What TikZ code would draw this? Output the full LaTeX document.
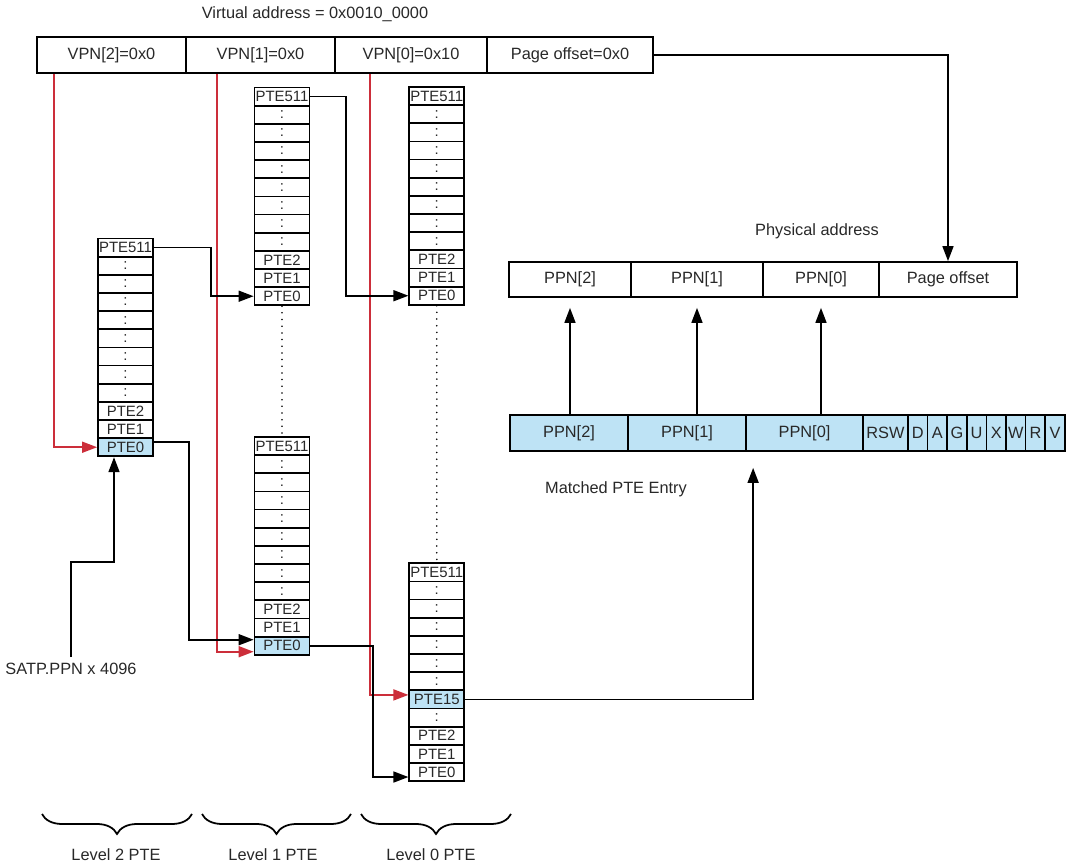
\documentclass[tikz,border=0pt]{standalone}
\usepackage{fontspec}
\setmainfont{Liberation Sans}
\usetikzlibrary{arrows.meta,decorations.pathreplacing}

\definecolor{ptefill}{RGB}{190,227,245}
\definecolor{walkred}{RGB}{204,46,58}
\definecolor{inkgrey}{RGB}{40,40,40}

\begin{document}
\begin{tikzpicture}[
  x=0.02cm, y=-0.02cm,
  every node/.style={text=inkgrey, font=\fontsize{9.3}{11}\selectfont},
  field/.style={draw, line width=1pt, minimum height=0.72cm, inner sep=0pt},
  hitfield/.style={field, fill=ptefill},
  pterow/.style={draw, line width=1pt, minimum width=1.1cm, minimum height=0.363cm,
                 inner sep=0pt, font=\fontsize{8.5}{9}\selectfont},
  gapline/.style={line width=1pt, line cap=round, dash pattern=on 0pt off 3.8pt},
  arr/.style={-{Triangle[length=8.5pt,width=6.2pt]}, line width=1pt},
  redarr/.style={arr, draw=walkred},
  levelbrace/.style={decorate, decoration={brace, amplitude=0.4cm, mirror}, line width=1pt}
]
\useasboundingbox (0,0) rectangle (1080,868);

% virtual address
\node (vatitle) at (315,14) {Virtual address = 0x0010\_0000};
\node[field, minimum width=2.98cm] (va2)   at (111.5,55) {VPN[2]=0x0};
\node[field, minimum width=2.98cm] (va1)   at (260.5,55) {VPN[1]=0x0};
\node[field, minimum width=3.04cm] (va0)   at (411,55)   {VPN[0]=0x10};
\node[field, minimum width=3.32cm] (vaoff) at (570,55)   {Page offset=0x0};

% page tables: a = level 2, b/d = level 1, c/e = level 0
\foreach \t/\cx/\ty/\hitrow in {a/125.5/238.5/12, b/282/87.5/0, c/436.8/87/0, d/282/437/12}
  \foreach \lab [count=\k] in {PTE511,:,:,:,:,:,:,:,:,PTE2,PTE1,PTE0} {
    \ifnum\k=\hitrow \def\fc{ptefill}\else\def\fc{white}\fi
    \node[pterow, fill=\fc] (\t\k) at (\cx,{\ty+18.15*\k-9.075}) {\lab};
  }
\foreach \lab [count=\k] in {PTE511,:,:,:,:,:,:,PTE15,:,PTE2,PTE1,PTE0} {
  \ifnum\k=8 \def\fc{ptefill}\else\def\fc{white}\fi
  \node[pterow, fill=\fc] (e\k) at (436.8,{563.3+18.15*\k-9.075}) {\lab};
}
\draw[gapline] (b12.south) -- (d1.north);
\draw[gapline] (c12.south) -- (e1.north);

% physical address
\node (patitle) at (817,231) {Physical address};
\node[field, minimum width=2.44cm, minimum height=0.7cm] (pa2)   at (570,279.5) {PPN[2]};
\node[field, minimum width=2.64cm, minimum height=0.7cm] (pa1)   at (697,279.5) {PPN[1]};
\node[field, minimum width=2.32cm, minimum height=0.7cm] (pa0)   at (821,279.5) {PPN[0]};
\node[field, minimum width=2.76cm, minimum height=0.7cm] (paoff) at (948,279.5) {Page offset};

% matched PTE entry
\node[hitfield, minimum width=2.36cm] (pe2) at (569,433)   {PPN[2]};
\node[hitfield, minimum width=2.36cm] (pe1) at (687,433)   {PPN[1]};
\node[hitfield, minimum width=2.34cm] (pe0) at (804.5,433) {PPN[0]};
\node[hitfield, minimum width=0.9cm]  (rsw) at (885.5,433) {RSW};
\foreach \f [count=\i] in {D,A,G,U,X,W,R,V}
  \node[hitfield, minimum width=0.392cm] (flag\f) at ({908+19.6*\i-9.8},433) {\f};
\node (mlabel) at (616,489) {Matched PTE Entry};

\node (satp) at (71,669) {SATP.PPN x 4096};

% table walk
\coordinate (r2) at ([xshift=0.36cm]va2.south west);
\coordinate (r1) at ([xshift=0.64cm]va1.south west);
\coordinate (r0) at ([xshift=0.72cm]va0.south west);
\draw[redarr] (r2) |- (a12.west);
\draw[redarr] (r1) |- ([yshift=-0.12cm]d12.west);
\draw[redarr] (r0) |- ([yshift=0.09cm]e8.west);

\draw[arr] (satp.north) -- ++(0,-95) -| ([xshift=-0.23cm]a12.south);
\draw[arr] (a1.east) -- ++(57,0) |- (b12.west);
\draw[arr] (b1.east) -- ++(36,0) |- (c12.west);
\draw[arr] ([yshift=0.1cm]a12.east) -- ++(35,0) |- ([yshift=0.12cm]d12.west);
\draw[arr] (d12.east) -- ++(63,0) |- ([yshift=-0.1cm]e12.west);
\draw[arr, shorten >=0.32cm] (e8.east) -| ([xshift=0.16cm]pe0.south west);

\draw[arr] (vaoff.east) -| (paoff.north);
\draw[arr, shorten >=0.2cm] (pe2.north -| pa2.south) -- (pa2.south);
\draw[arr, shorten >=0.2cm] (pe1.north -| pa1.south) -- (pa1.south);
\draw[arr, shorten >=0.2cm] (pe0.north -| pa0.south) -- (pa0.south);

% levels
\draw[levelbrace] (42,814) -- (192,814);
\draw[levelbrace] (202,814) -- (351,814);
\draw[levelbrace] (361,814) -- (511,814);
\node (lv2) at (116,855) {Level 2 PTE};
\node (lv1) at (273,855) {Level 1 PTE};
\node (lv0) at (431,855) {Level 0 PTE};
\end{tikzpicture}
\end{document}
